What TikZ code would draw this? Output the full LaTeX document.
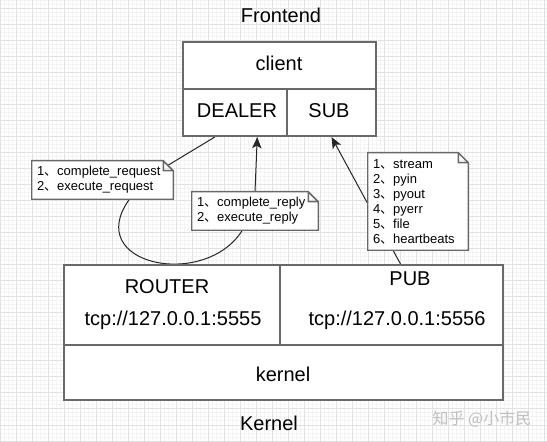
\documentclass[tikz,border=0pt]{standalone}
\usepackage{fontspec}
\setmainfont{Liberation Sans}
\newfontfamily\cjk{Noto Sans CJK SC}
\usetikzlibrary{arrows.meta,calc,backgrounds}
\definecolor{edgegray}{RGB}{105,105,105}
\definecolor{majorgrid}{RGB}{226,226,226}
\definecolor{minorgrid}{RGB}{244,244,244}
\newcommand{\dun}{{\cjk 、}}
\tikzset{
  cell/.style      = {draw=edgegray, line width=1.5pt, fill=white, inner sep=0pt},
  lbl/.style       = {font=\fontsize{15}{18}\selectfont, anchor=base, inner sep=0pt},
  note/.style      = {inner xsep=3.75pt, inner ysep=0pt, align=left,
                      font=\fontsize{9.75}{11.25}\selectfont},
  noteline/.style  = {draw=edgegray, line width=1.1pt, fill=white, line join=miter},
  wire/.style      = {draw=black!85, line width=0.75pt},
  vec/.style       = {wire, -{Stealth[length=8.5pt, width=7pt, inset=2pt]}},
  gridminor/.style = {draw=minorgrid, line width=0.75pt},
  gridmajor/.style = {draw=majorgrid, line width=0.75pt},
}
\begin{document}
\begin{tikzpicture}[x=0.75pt,y=-0.75pt]
  \useasboundingbox (0,0) rectangle (547,442);
  \node[cell, minimum width=144.75pt, minimum height=35.25pt] (client) at (279.5,65.5) {};
  \node[cell, minimum width=78pt, minimum height=35.25pt] (dealer) at (235,112.5) {};
  \node[cell, minimum width=66.75pt, minimum height=35.25pt] (sub) at (331.5,112.5) {};
  \node[cell, minimum width=162pt, minimum height=60pt] (router) at (172,305) {};
  \node[cell, minimum width=167.25pt, minimum height=60pt] (pub) at (391.5,305) {};
  \node[cell, minimum width=329.25pt, minimum height=41.25pt] (kernel) at (283.5,372.5) {};
  \node[lbl] (frontendlbl) at (281,22.7) {Frontend};
  \node[lbl] (clientlbl) at (279,71) {client};
  \node[lbl] (dealerlbl) at (237,118) {DEALER};
  \node[lbl] (sublbl) at (329,118) {SUB};
  \node[lbl] (routerlbl) at (167,294) {ROUTER};
  \node[lbl] (routeraddr) at (173,326) {tcp://127.0.0.1:5555};
  \node[lbl] (publbl) at (410,286) {PUB};
  \node[lbl] (pubaddr) at (397,326) {tcp://127.0.0.1:5556};
  \node[lbl] (kernellbl) at (283,382) {kernel};
  \node[lbl] (kernelname) at (269,431) {Kernel};
  \node[note, text width=98.25pt, minimum height=28.5pt] (reqnote) at (102.5,180)
    {1\dun complete\_request\\2\dun execute\_request};
  \node[note, text width=87pt, minimum height=28.5pt] (repnote) at (255,211)
    {1\dun complete\_reply\\2\dun execute\_reply};
  \node[note, text width=67.5pt, minimum height=72.75pt] (iopubnote) at (418,201.5)
    {1\dun stream\\2\dun pyin\\3\dun pyout\\4\dun pyerr\\5\dun file\\6\dun heartbeats};
  \node[font=\cjk\fontsize{12}{14}\selectfont, text=gray!50] (watermark) at (482,419) {知乎 @小市民};
  \begin{pgfonlayer}{background}
    \fill[white] (0,0) rectangle (547,442);
    \foreach \gx in {0,4,...,544} \draw[gridminor] (\gx,0) -- (\gx,442);
    \foreach \gy in {1,5,...,441} \draw[gridminor] (0,\gy) -- (547,\gy);
    \foreach \gx in {0,16,...,544} \draw[gridmajor] (\gx,0) -- (\gx,442);
    \foreach \gy in {9,25,...,441} \draw[gridmajor] (0,\gy) -- (547,\gy);
    \draw[wire] ($(dealer.south west)!0.31!(dealer.south east)$) -- ([xshift=-4.5pt,yshift=-3.75pt]reqnote.north east);
    \draw[wire] ($(reqnote.south west)!0.69!(reqnote.south east)$) .. controls (82,265) and (205,290)
      .. ($(repnote.south west)!0.4!(repnote.south east)$);
    \draw[vec] (repnote.north) -- ($(dealer.south west)!0.71!(dealer.south east)$);
    \draw[vec] ($(pub.north west)!0.54!(pub.north east)$) -- (sub.south);
    \foreach \n in {reqnote,repnote,iopubnote}
      \draw[noteline] (\n.south west) -- (\n.north west) -- ([xshift=-7.5pt]\n.north east)
        -- ([yshift=-7.5pt]\n.north east) -- (\n.south east) -- cycle
        ([xshift=-7.5pt]\n.north east) |- ([yshift=-7.5pt]\n.north east);
  \end{pgfonlayer}
\end{tikzpicture}
\end{document}
